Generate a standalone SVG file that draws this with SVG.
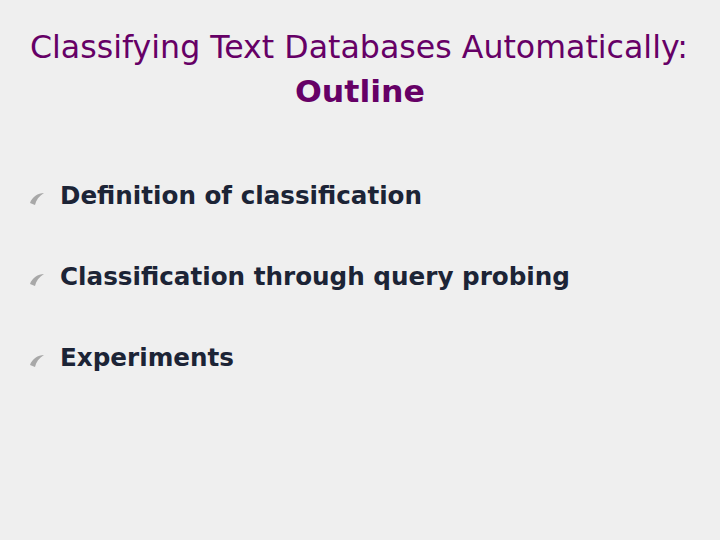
<svg xmlns="http://www.w3.org/2000/svg" width="720" height="540" viewBox="0 0 720 540">
<defs>
<style>
.t{font-family:"DejaVu Sans",sans-serif;fill:#660066}
.b{font-family:"DejaVu Sans",sans-serif;font-weight:bold;font-size:24px;fill:#1c2436}
.bul{fill:#a8a8a8}
</style>
<path id="bl" d="M0 0 C2-6 8-10 14-10 C9-7 6-3 5 2 Z"/>
</defs>
<rect width="720" height="540" fill="#efefef"/>
<g id="title">
<text class="t" x="359" y="58" font-size="32" text-anchor="middle" textLength="658" lengthAdjust="spacingAndGlyphs">Classifying Text Databases Automatically:</text>
<text class="t" x="360" y="102" font-size="31" font-weight="bold" text-anchor="middle" textLength="130" lengthAdjust="spacingAndGlyphs">Outline</text>
</g>
<g id="item1"><use href="#bl" x="30" y="203" class="bul"/><text class="b" x="60" y="204" textLength="362" lengthAdjust="spacingAndGlyphs">Definition of classification</text></g>
<g id="item2"><use href="#bl" x="30" y="284" class="bul"/><text class="b" x="60" y="285" textLength="510" lengthAdjust="spacingAndGlyphs">Classification through query probing</text></g>
<g id="item3"><use href="#bl" x="30" y="365" class="bul"/><text class="b" x="60" y="366" textLength="174" lengthAdjust="spacingAndGlyphs">Experiments</text></g>
</svg>
